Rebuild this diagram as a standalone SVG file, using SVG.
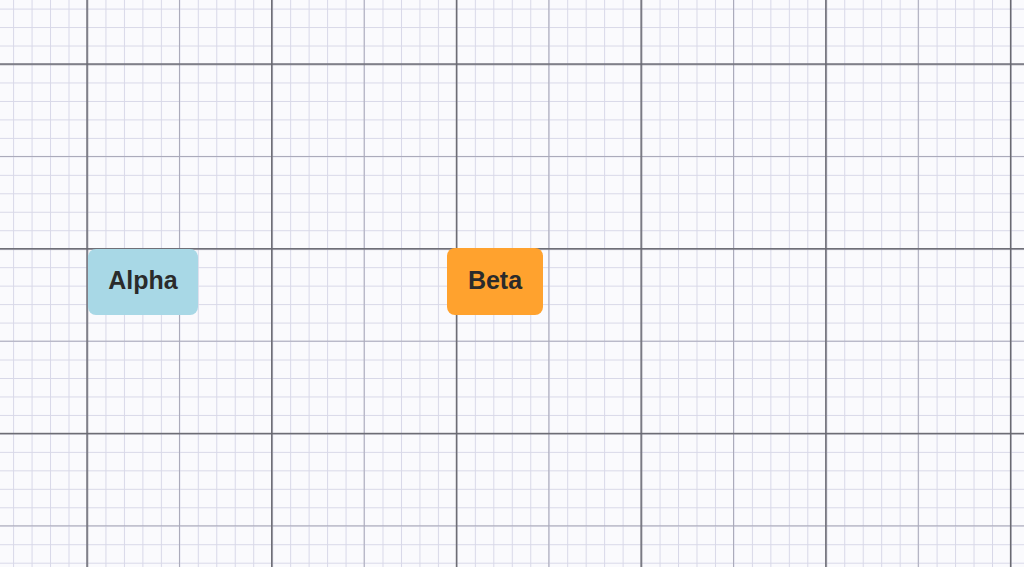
<svg xmlns="http://www.w3.org/2000/svg" width="1024" height="567" viewBox="0 0 1024 567">
<style>
.lbl{font-family:"Liberation Sans",Arial,sans-serif;font-weight:bold;font-size:25px;fill:#2b2b2b;text-anchor:middle;dominant-baseline:central}
</style>
<defs>
<pattern id="minor" x="13.1" y="8.6" width="18.47" height="18.47" patternUnits="userSpaceOnUse">
<path d="M0 0.5H18.47M0.5 0V18.47" stroke="#d8d8e8" stroke-width="1" fill="none"/>
</pattern>
<pattern id="mid" x="86.6" y="63.6" width="92.35" height="92.35" patternUnits="userSpaceOnUse">
<path d="M0 0.5H92.35M0.5 0V92.35" stroke="#a8a8b8" stroke-width="1" fill="none"/>
</pattern>
<pattern id="major" x="86.4" y="63.4" width="184.7" height="184.7" patternUnits="userSpaceOnUse">
<path d="M0 0.75H184.7M0.75 0V184.7" stroke="#66666e" stroke-width="1.5" fill="none"/>
</pattern>
</defs>
<g id="grid">
<rect width="1024" height="567" fill="#fafafd"/>
<rect width="1024" height="567" fill="url(#minor)"/>
<rect width="1024" height="567" fill="url(#mid)"/>
<rect width="1024" height="567" fill="url(#major)"/>
</g>
<g id="connectors"></g>
<g id="alpha">
<rect x="88" y="249" width="110" height="66" rx="8" fill="#a8d8e6"/>
<text class="lbl" x="143" y="280">Alpha</text>
</g>
<g id="beta">
<rect x="447" y="248" width="96" height="67" rx="8" fill="#ffa22e"/>
<text class="lbl" x="495" y="280">Beta</text>
</g>
</svg>
